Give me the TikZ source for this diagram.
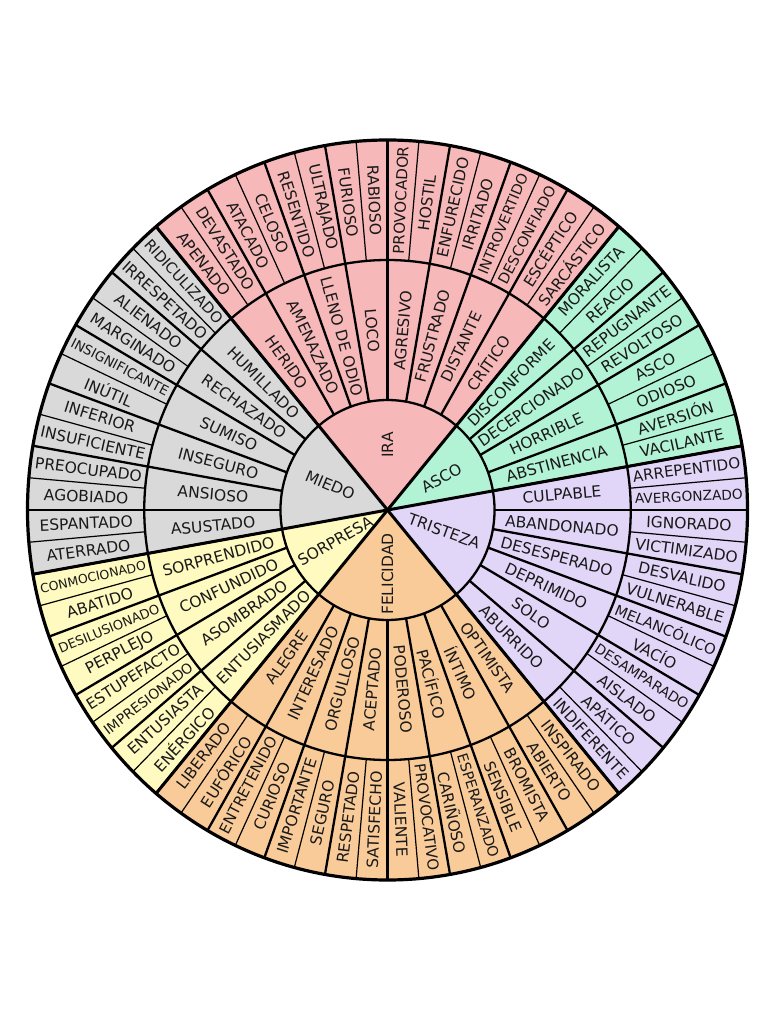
\documentclass[tikz,border=0pt]{standalone}
\usepackage{fontspec}
\setmainfont{DejaVu Sans}
\usepackage{graphicx}
\definecolor{cIra}{RGB}{246,184,184}
\definecolor{cAsco}{RGB}{178,243,214}
\definecolor{cTris}{RGB}{225,214,247}
\definecolor{cFeli}{RGB}{249,203,153}
\definecolor{cSorp}{RGB}{255,250,192}
\definecolor{cMiedo}{RGB}{217,217,217}
\definecolor{ink}{RGB}{25,25,25}
\newsavebox\wbox
\newcommand\fitto[2]{\sbox\wbox{#2}\ifdim\wd\wbox>#1\relax\resizebox{#1}{!}{\usebox\wbox}\else\usebox\wbox\fi}
\newcommand\rotfor[1]{\pgfmathsetmacro\wrot{(#1>-89.9 && #1<90.1) ? #1 : #1+180}}
% start angle, step, radius, max width, name prefix, list
\newcommand\wring[6]{%
  \foreach \lab [count=\i] in {#6} {%
    \pgfmathsetmacro\wang{#1+#2*\i-#2/2}%
    \rotfor{\wang}%
    \node[lab,rotate=\wrot] (#5-\i) at (\wang:#3) {\fitto{#4}{\lab}};
  }}
\begin{document}
\begin{tikzpicture}[x=0.973pt,y=1pt,
  lab/.style={text=ink,inner sep=0pt,font=\fontsize{15.5}{18}\selectfont},
  thinsep/.style={line width=1.2pt},
  midsep/.style={line width=2.3pt},
  secsep/.style={line width=3pt},
  ringline/.style={line width=2.3pt}]
\useasboundingbox (-387.5pt,-514pt) rectangle (380.5pt,510pt);
\fill[white] (-387.5pt,-514pt) rectangle (380.5pt,510pt);
% sector fills
\foreach \a/\b/\c in {50/130/cIra,10/50/cAsco,-50/10/cTris,-130/-50/cFeli,-170/-130/cSorp,130/190/cMiedo}
  \fill[\c] (0,0) -- (\a:370) arc[start angle=\a, end angle=\b, radius=370] -- cycle;
% separators
\foreach \k in {0,...,35} \draw[midsep] ({\k*10}:110) -- ({\k*10}:370);
\foreach \k in {0,...,35} \draw[thinsep] ({\k*10+5}:250) -- ({\k*10+5}:370);
\draw[ringline] (0,0) circle[radius=110];
\draw[ringline] (0,0) circle[radius=250];
\foreach \a in {10,50,130,190,230,310} \draw[secsep] (0,0) -- (\a:370);
\draw[line width=3.2pt] (0,0) circle[radius=370];
% core labels
\node[lab,rotate=90] (ira) at (90:65) {IRA};
\node[lab,rotate=30] (asco) at (30:64) {ASCO};
\node[lab,rotate=-20] (tristeza) at (-20:62) {TRISTEZA};
\node[lab,rotate=90] (felicidad) at (-90:64) {FELICIDAD};
\node[lab,rotate=30] (sorpresa) at (-150:62) {SORPRESA};
\node[lab,rotate=-23] (miedo) at (157:64) {MIEDO};
% IRA
\wring{50}{10}{180}{128pt}{iram}{CRÍTICO,DISTANTE,FRUSTRADO,AGRESIVO,LOCO,LLENO DE ODIO,AMENAZADO,HERIDO}
\wring{50}{5}{310}{108pt}{irao}{SARCÁSTICO,ESCÉPTICO,DESCONFIADO,INTROVERTIDO,IRRITADO,ENFURECIDO,HOSTIL,PROVOCADOR,RABIOSO,FURIOSO,ULTRAJADO,RESENTIDO,CELOSO,ATACADO,DEVASTADO,APENADO}
% ASCO
\wring{10}{10}{180}{128pt}{ascm}{ABSTINENCIA,HORRIBLE,DECEPCIONADO,DISCONFORME}
\wring{10}{5}{310}{108pt}{asco}{VACILANTE,AVERSIÓN,ODIOSO,ASCO,REVOLTOSO,REPUGNANTE,REACIO,MORALISTA}
% TRISTEZA
\wring{-50}{10}{180}{128pt}{trim}{ABURRIDO,SOLO,DEPRIMIDO,DESESPERADO,ABANDONADO,CULPABLE}
\wring{-50}{5}{310}{108pt}{trio}{INDIFERENTE,APÁTICO,AISLADO,DESAMPARADO,VACÍO,MELANCÓLICO,VULNERABLE,DESVALIDO,VICTIMIZADO,IGNORADO,AVERGONZADO,ARREPENTIDO}
% FELICIDAD
\wring{-130}{10}{180}{128pt}{felm}{ALEGRE,INTERESADO,ORGULLOSO,ACEPTADO,PODEROSO,PACÍFICO,ÍNTIMO,OPTIMISTA}
\wring{-130}{5}{310}{108pt}{felo}{LIBERADO,EUFÓRICO,ENTRETENIDO,CURIOSO,IMPORTANTE,SEGURO,RESPETADO,SATISFECHO,VALIENTE,PROVOCATIVO,CARIÑOSO,ESPERANZADO,SENSIBLE,BROMISTA,ABIERTO,INSPIRADO}
% SORPRESA
\wring{-170}{10}{180}{128pt}{sorm}{SORPRENDIDO,CONFUNDIDO,ASOMBRADO,ENTUSIASMADO}
\wring{-170}{5}{310}{108pt}{soro}{CONMOCIONADO,ABATIDO,DESILUSIONADO,PERPLEJO,ESTUPEFACTO,IMPRESIONADO,ENTUSIASTA,ENÉRGICO}
% MIEDO
\wring{130}{10}{180}{128pt}{miem}{HUMILLADO,RECHAZADO,SUMISO,INSEGURO,ANSIOSO,ASUSTADO}
\wring{130}{5}{310}{108pt}{mieo}{RIDICULIZADO,IRRESPETADO,ALIENADO,MARGINADO,INSIGNIFICANTE,INÚTIL,INFERIOR,INSUFICIENTE,PREOCUPADO,AGOBIADO,ESPANTADO,ATERRADO}
\end{tikzpicture}
\end{document}
